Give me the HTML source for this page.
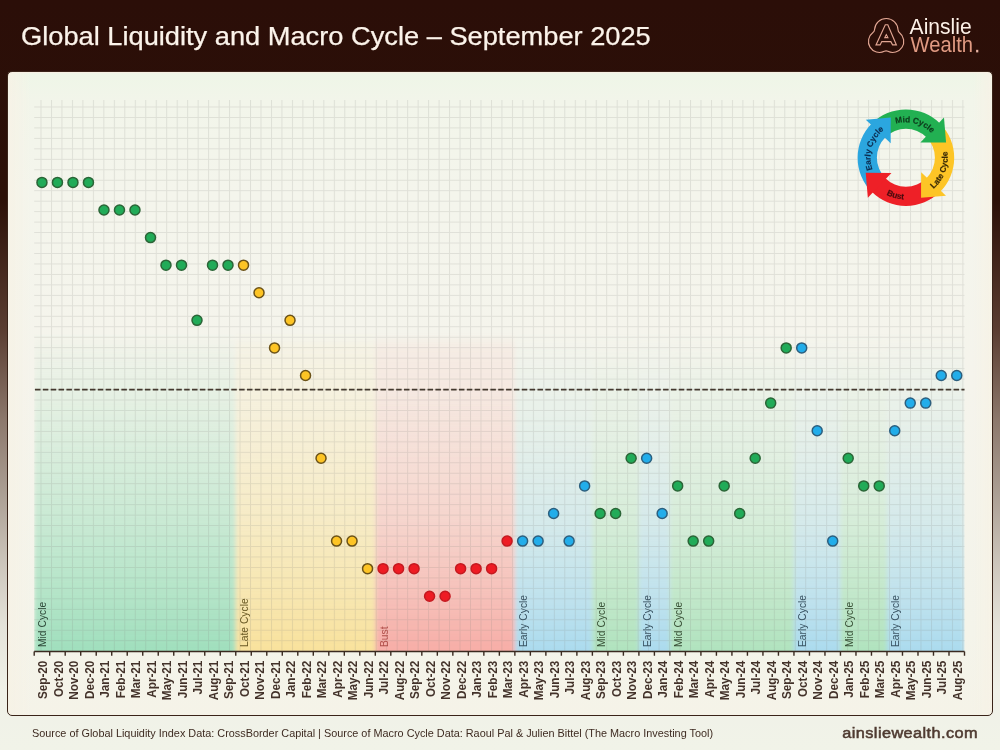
<!DOCTYPE html>
<html><head><meta charset="utf-8"><title>Global Liquidity and Macro Cycle</title>
<style>
html,body{margin:0;padding:0;}
body{width:1000px;height:750px;overflow:hidden;position:relative;font-family:"Liberation Sans",sans-serif;
background:linear-gradient(to bottom,#2b0e08 0px,#2c1007 200px,#5a3d31 330px,#8c786c 420px,#aea297 500px,#cdc6bc 565px,#e4e2d9 625px,#f0f1e8 690px,#f1f3e8 750px);}
#title{position:absolute;left:21px;top:18.8px;font-size:25.5px;color:#fbf3ea;-webkit-text-stroke:0.25px #fbf3ea;white-space:nowrap;line-height:34px;transform:scaleX(1.068);transform-origin:0 0;}
#panel{position:absolute;left:6.5px;top:71px;width:984.5px;height:642.7px;box-shadow:inset 0 1px 0 #f8f0e4;border:1.5px solid #3a2419;border-radius:5px;box-sizing:content-box;
background:linear-gradient(to right,#f6f2e6 0px,rgba(246,242,230,0) 22px,rgba(246,242,230,0) 965px,#f6f2e6 100%),linear-gradient(to bottom,#eef6e7 0px,#f2f5ea 28px,#f4f5ec 120px,#f5f4ec 300px,#f4f4ea 560px,#f5f3e8 100%);}
#foot{position:absolute;left:32px;top:725.5px;font-size:10.86px;color:#3e2b21;white-space:nowrap;line-height:14px;}
#site{position:absolute;right:22px;top:723.8px;font-size:15.4px;color:#4f3b31;-webkit-text-stroke:0.55px #4f3b31;letter-spacing:0.38px;white-space:nowrap;line-height:18px;transform:scaleX(1.06);transform-origin:100% 0;}
#wrap{position:absolute;left:0;top:0;width:1000px;height:750px;overflow:hidden;background:linear-gradient(to bottom,#2b0e08 0px,#2c1007 200px,#5a3d31 330px,#8c786c 420px,#aea297 500px,#cdc6bc 565px,#e4e2d9 625px,#f0f1e8 690px,#f1f3e8 750px);transform:translateZ(0);will-change:transform;}
svg{position:absolute;left:0;top:0;}
.xl{font-size:12.3px;font-weight:bold;fill:#43322a;}
.bl{font-size:10.3px;}
</style></head><body>
<div id="wrap"><div id="title">Global Liquidity and Macro Cycle – September 2025</div>
<div id="panel"></div>

<svg width="1000" height="750" viewBox="0 0 1000 750">
<defs>
<linearGradient id="bgg" x1="0" y1="0" x2="0" y2="1"><stop offset="0" stop-color="rgb(139,218,178)" stop-opacity="0"/><stop offset="0.05" stop-color="rgb(139,218,178)" stop-opacity="0.05"/><stop offset="0.176" stop-color="rgb(139,218,178)" stop-opacity="0.13"/><stop offset="0.588" stop-color="rgb(139,218,178)" stop-opacity="0.41"/><stop offset="0.84" stop-color="rgb(139,218,178)" stop-opacity="0.63"/><stop offset="1" stop-color="rgb(139,218,178)" stop-opacity="0.8"/></linearGradient>
<linearGradient id="bgh" x1="0" y1="0" x2="0" y2="1"><stop offset="0" stop-color="rgb(176,228,204)" stop-opacity="0"/><stop offset="0.05" stop-color="rgb(176,228,204)" stop-opacity="0.03"/><stop offset="0.176" stop-color="rgb(176,228,204)" stop-opacity="0.14"/><stop offset="0.588" stop-color="rgb(160,223,185)" stop-opacity="0.36"/><stop offset="0.84" stop-color="rgb(152,221,175)" stop-opacity="0.56"/><stop offset="1" stop-color="rgb(152,221,175)" stop-opacity="0.74"/></linearGradient>
<linearGradient id="bgy" x1="0" y1="0" x2="0" y2="1"><stop offset="0" stop-color="rgb(250,220,132)" stop-opacity="0"/><stop offset="0.05" stop-color="rgb(250,220,132)" stop-opacity="0.07"/><stop offset="0.176" stop-color="rgb(250,220,132)" stop-opacity="0.12"/><stop offset="0.588" stop-color="rgb(250,220,132)" stop-opacity="0.36"/><stop offset="0.84" stop-color="rgb(250,220,132)" stop-opacity="0.58"/><stop offset="1" stop-color="rgb(250,220,132)" stop-opacity="0.76"/></linearGradient>
<linearGradient id="bgr" x1="0" y1="0" x2="0" y2="1"><stop offset="0" stop-color="rgb(248,150,145)" stop-opacity="0"/><stop offset="0.05" stop-color="rgb(248,150,145)" stop-opacity="0.09"/><stop offset="0.176" stop-color="rgb(248,150,145)" stop-opacity="0.12"/><stop offset="0.588" stop-color="rgb(248,150,145)" stop-opacity="0.33"/><stop offset="0.84" stop-color="rgb(248,150,145)" stop-opacity="0.56"/><stop offset="1" stop-color="rgb(248,150,145)" stop-opacity="0.75"/></linearGradient>
<linearGradient id="bgb" x1="0" y1="0" x2="0" y2="1"><stop offset="0" stop-color="rgb(178,226,222)" stop-opacity="0"/><stop offset="0.05" stop-color="rgb(178,226,222)" stop-opacity="0.04"/><stop offset="0.176" stop-color="rgb(178,226,222)" stop-opacity="0.14"/><stop offset="0.588" stop-color="rgb(153,214,234)" stop-opacity="0.34"/><stop offset="0.84" stop-color="rgb(140,208,240)" stop-opacity="0.52"/><stop offset="1" stop-color="rgb(140,208,240)" stop-opacity="0.7"/></linearGradient>
<pattern id="grid" x="40.5" y="106.5" width="10.476" height="10.465" patternUnits="userSpaceOnUse"><path d="M0.5 0V10.5M0 0.5H10.5" stroke="#80827a" stroke-opacity="0.18" stroke-width="1" fill="none"/></pattern>
<filter id="hb" x="-2%" y="-2%" width="104%" height="104%"><feGaussianBlur stdDeviation="2.2 0"/></filter>
<clipPath id="gc"><rect x="34.2" y="100" width="930.3" height="551.5"/></clipPath>
</defs>
<g filter="url(#hb)" clip-path="url(#gc)">
<rect x="34.2" y="333" width="201.56" height="318.5" fill="url(#bgg)"/>
<rect x="235.76" y="333" width="139.55" height="318.5" fill="url(#bgy)"/>
<rect x="375.31" y="333" width="139.55" height="318.5" fill="url(#bgr)"/>
<rect x="514.86" y="333" width="77.53" height="318.5" fill="url(#bgb)"/>
<rect x="592.38" y="333" width="46.51" height="318.5" fill="url(#bgh)"/>
<rect x="638.9" y="333" width="31.01" height="318.5" fill="url(#bgb)"/>
<rect x="669.91" y="333" width="124.04" height="318.5" fill="url(#bgh)"/>
<rect x="793.95" y="333" width="46.51" height="318.5" fill="url(#bgb)"/>
<rect x="840.46" y="333" width="46.52" height="318.5" fill="url(#bgh)"/>
<rect x="886.98" y="333" width="77.52" height="318.5" fill="url(#bgb)"/>
</g>
<rect x="34.2" y="100" width="930.3" height="551.5" fill="url(#grid)"/>
<line x1="35" y1="389.6" x2="964.5" y2="389.6" stroke="#43382e" stroke-width="1.6" stroke-dasharray="5.5 2.351"/>
<path d="M34.2 651.5H964.5" stroke="#3a2a20" stroke-width="1.4" fill="none"/>
<path d="M34.2 651.5v4.2M49.71 651.5v4.2M65.21 651.5v4.2M80.72 651.5v4.2M96.22 651.5v4.2M111.73 651.5v4.2M127.23 651.5v4.2M142.74 651.5v4.2M158.24 651.5v4.2M173.75 651.5v4.2M189.25 651.5v4.2M204.75 651.5v4.2M220.26 651.5v4.2M235.76 651.5v4.2M251.27 651.5v4.2M266.78 651.5v4.2M282.28 651.5v4.2M297.79 651.5v4.2M313.29 651.5v4.2M328.8 651.5v4.2M344.3 651.5v4.2M359.81 651.5v4.2M375.31 651.5v4.2M390.81 651.5v4.2M406.32 651.5v4.2M421.82 651.5v4.2M437.33 651.5v4.2M452.84 651.5v4.2M468.34 651.5v4.2M483.85 651.5v4.2M499.35 651.5v4.2M514.86 651.5v4.2M530.36 651.5v4.2M545.87 651.5v4.2M561.37 651.5v4.2M576.88 651.5v4.2M592.38 651.5v4.2M607.89 651.5v4.2M623.39 651.5v4.2M638.9 651.5v4.2M654.4 651.5v4.2M669.91 651.5v4.2M685.41 651.5v4.2M700.92 651.5v4.2M716.42 651.5v4.2M731.93 651.5v4.2M747.43 651.5v4.2M762.94 651.5v4.2M778.44 651.5v4.2M793.95 651.5v4.2M809.45 651.5v4.2M824.96 651.5v4.2M840.46 651.5v4.2M855.97 651.5v4.2M871.47 651.5v4.2M886.98 651.5v4.2M902.48 651.5v4.2M917.99 651.5v4.2M933.49 651.5v4.2M949 651.5v4.2M964.5 651.5v4.2" stroke="#3a2a20" stroke-width="1.4" fill="none"/>
<text class="bl" fill="#2f4a3a" transform="translate(46.4 647) rotate(-90)">Mid Cycle</text>
<text class="bl" fill="#6a5a25" transform="translate(247.96 647) rotate(-90)">Late Cycle</text>
<text class="bl" fill="#b04f4a" transform="translate(387.51 647) rotate(-90)">Bust</text>
<text class="bl" fill="#3a5463" transform="translate(527.06 647) rotate(-90)">Early Cycle</text>
<text class="bl" fill="#3a5238" transform="translate(604.58 647) rotate(-90)">Mid Cycle</text>
<text class="bl" fill="#3a5463" transform="translate(651.1 647) rotate(-90)">Early Cycle</text>
<text class="bl" fill="#3a5238" transform="translate(682.11 647) rotate(-90)">Mid Cycle</text>
<text class="bl" fill="#3a5463" transform="translate(806.15 647) rotate(-90)">Early Cycle</text>
<text class="bl" fill="#3a5238" transform="translate(852.66 647) rotate(-90)">Mid Cycle</text>
<text class="bl" fill="#3a5463" transform="translate(899.18 647) rotate(-90)">Early Cycle</text>
<text class="xl" text-anchor="end" transform="translate(47.05 660.7) rotate(-90) scale(0.95 1)">Sep-20</text>
<text class="xl" text-anchor="end" transform="translate(62.56 660.7) rotate(-90) scale(0.95 1)">Oct-20</text>
<text class="xl" text-anchor="end" transform="translate(78.06 660.7) rotate(-90) scale(0.95 1)">Nov-20</text>
<text class="xl" text-anchor="end" transform="translate(93.57 660.7) rotate(-90) scale(0.95 1)">Dec-20</text>
<text class="xl" text-anchor="end" transform="translate(109.07 660.7) rotate(-90) scale(0.95 1)">Jan-21</text>
<text class="xl" text-anchor="end" transform="translate(124.58 660.7) rotate(-90) scale(0.95 1)">Feb-21</text>
<text class="xl" text-anchor="end" transform="translate(140.08 660.7) rotate(-90) scale(0.95 1)">Mar-21</text>
<text class="xl" text-anchor="end" transform="translate(155.59 660.7) rotate(-90) scale(0.95 1)">Apr-21</text>
<text class="xl" text-anchor="end" transform="translate(171.09 660.7) rotate(-90) scale(0.95 1)">May-21</text>
<text class="xl" text-anchor="end" transform="translate(186.6 660.7) rotate(-90) scale(0.95 1)">Jun-21</text>
<text class="xl" text-anchor="end" transform="translate(202.1 660.7) rotate(-90) scale(0.95 1)">Jul-21</text>
<text class="xl" text-anchor="end" transform="translate(217.61 660.7) rotate(-90) scale(0.95 1)">Aug-21</text>
<text class="xl" text-anchor="end" transform="translate(233.11 660.7) rotate(-90) scale(0.95 1)">Sep-21</text>
<text class="xl" text-anchor="end" transform="translate(248.62 660.7) rotate(-90) scale(0.95 1)">Oct-21</text>
<text class="xl" text-anchor="end" transform="translate(264.12 660.7) rotate(-90) scale(0.95 1)">Nov-21</text>
<text class="xl" text-anchor="end" transform="translate(279.63 660.7) rotate(-90) scale(0.95 1)">Dec-21</text>
<text class="xl" text-anchor="end" transform="translate(295.13 660.7) rotate(-90) scale(0.95 1)">Jan-22</text>
<text class="xl" text-anchor="end" transform="translate(310.64 660.7) rotate(-90) scale(0.95 1)">Feb-22</text>
<text class="xl" text-anchor="end" transform="translate(326.14 660.7) rotate(-90) scale(0.95 1)">Mar-22</text>
<text class="xl" text-anchor="end" transform="translate(341.65 660.7) rotate(-90) scale(0.95 1)">Apr-22</text>
<text class="xl" text-anchor="end" transform="translate(357.15 660.7) rotate(-90) scale(0.95 1)">May-22</text>
<text class="xl" text-anchor="end" transform="translate(372.66 660.7) rotate(-90) scale(0.95 1)">Jun-22</text>
<text class="xl" text-anchor="end" transform="translate(388.16 660.7) rotate(-90) scale(0.95 1)">Jul-22</text>
<text class="xl" text-anchor="end" transform="translate(403.67 660.7) rotate(-90) scale(0.95 1)">Aug-22</text>
<text class="xl" text-anchor="end" transform="translate(419.17 660.7) rotate(-90) scale(0.95 1)">Sep-22</text>
<text class="xl" text-anchor="end" transform="translate(434.68 660.7) rotate(-90) scale(0.95 1)">Oct-22</text>
<text class="xl" text-anchor="end" transform="translate(450.18 660.7) rotate(-90) scale(0.95 1)">Nov-22</text>
<text class="xl" text-anchor="end" transform="translate(465.69 660.7) rotate(-90) scale(0.95 1)">Dec-22</text>
<text class="xl" text-anchor="end" transform="translate(481.19 660.7) rotate(-90) scale(0.95 1)">Jan-23</text>
<text class="xl" text-anchor="end" transform="translate(496.7 660.7) rotate(-90) scale(0.95 1)">Feb-23</text>
<text class="xl" text-anchor="end" transform="translate(512.2 660.7) rotate(-90) scale(0.95 1)">Mar-23</text>
<text class="xl" text-anchor="end" transform="translate(527.71 660.7) rotate(-90) scale(0.95 1)">Apr-23</text>
<text class="xl" text-anchor="end" transform="translate(543.21 660.7) rotate(-90) scale(0.95 1)">May-23</text>
<text class="xl" text-anchor="end" transform="translate(558.72 660.7) rotate(-90) scale(0.95 1)">Jun-23</text>
<text class="xl" text-anchor="end" transform="translate(574.22 660.7) rotate(-90) scale(0.95 1)">Jul-23</text>
<text class="xl" text-anchor="end" transform="translate(589.73 660.7) rotate(-90) scale(0.95 1)">Aug-23</text>
<text class="xl" text-anchor="end" transform="translate(605.23 660.7) rotate(-90) scale(0.95 1)">Sep-23</text>
<text class="xl" text-anchor="end" transform="translate(620.74 660.7) rotate(-90) scale(0.95 1)">Oct-23</text>
<text class="xl" text-anchor="end" transform="translate(636.24 660.7) rotate(-90) scale(0.95 1)">Nov-23</text>
<text class="xl" text-anchor="end" transform="translate(651.75 660.7) rotate(-90) scale(0.95 1)">Dec-23</text>
<text class="xl" text-anchor="end" transform="translate(667.25 660.7) rotate(-90) scale(0.95 1)">Jan-24</text>
<text class="xl" text-anchor="end" transform="translate(682.76 660.7) rotate(-90) scale(0.95 1)">Feb-24</text>
<text class="xl" text-anchor="end" transform="translate(698.26 660.7) rotate(-90) scale(0.95 1)">Mar-24</text>
<text class="xl" text-anchor="end" transform="translate(713.77 660.7) rotate(-90) scale(0.95 1)">Apr-24</text>
<text class="xl" text-anchor="end" transform="translate(729.27 660.7) rotate(-90) scale(0.95 1)">May-24</text>
<text class="xl" text-anchor="end" transform="translate(744.78 660.7) rotate(-90) scale(0.95 1)">Jun-24</text>
<text class="xl" text-anchor="end" transform="translate(760.28 660.7) rotate(-90) scale(0.95 1)">Jul-24</text>
<text class="xl" text-anchor="end" transform="translate(775.79 660.7) rotate(-90) scale(0.95 1)">Aug-24</text>
<text class="xl" text-anchor="end" transform="translate(791.29 660.7) rotate(-90) scale(0.95 1)">Sep-24</text>
<text class="xl" text-anchor="end" transform="translate(806.8 660.7) rotate(-90) scale(0.95 1)">Oct-24</text>
<text class="xl" text-anchor="end" transform="translate(822.3 660.7) rotate(-90) scale(0.95 1)">Nov-24</text>
<text class="xl" text-anchor="end" transform="translate(837.81 660.7) rotate(-90) scale(0.95 1)">Dec-24</text>
<text class="xl" text-anchor="end" transform="translate(853.31 660.7) rotate(-90) scale(0.95 1)">Jan-25</text>
<text class="xl" text-anchor="end" transform="translate(868.82 660.7) rotate(-90) scale(0.95 1)">Feb-25</text>
<text class="xl" text-anchor="end" transform="translate(884.32 660.7) rotate(-90) scale(0.95 1)">Mar-25</text>
<text class="xl" text-anchor="end" transform="translate(899.83 660.7) rotate(-90) scale(0.95 1)">Apr-25</text>
<text class="xl" text-anchor="end" transform="translate(915.33 660.7) rotate(-90) scale(0.95 1)">May-25</text>
<text class="xl" text-anchor="end" transform="translate(930.84 660.7) rotate(-90) scale(0.95 1)">Jun-25</text>
<text class="xl" text-anchor="end" transform="translate(946.34 660.7) rotate(-90) scale(0.95 1)">Jul-25</text>
<text class="xl" text-anchor="end" transform="translate(961.85 660.7) rotate(-90) scale(0.95 1)">Aug-25</text>
<circle cx="41.95" cy="182.4" r="5" fill="#21ab58" stroke="#2b6537" stroke-width="1.5"/>
<circle cx="57.46" cy="182.4" r="5" fill="#21ab58" stroke="#2b6537" stroke-width="1.5"/>
<circle cx="72.96" cy="182.4" r="5" fill="#21ab58" stroke="#2b6537" stroke-width="1.5"/>
<circle cx="88.47" cy="182.4" r="5" fill="#21ab58" stroke="#2b6537" stroke-width="1.5"/>
<circle cx="103.97" cy="209.99" r="5" fill="#21ab58" stroke="#2b6537" stroke-width="1.5"/>
<circle cx="119.48" cy="209.99" r="5" fill="#21ab58" stroke="#2b6537" stroke-width="1.5"/>
<circle cx="134.98" cy="209.99" r="5" fill="#21ab58" stroke="#2b6537" stroke-width="1.5"/>
<circle cx="150.49" cy="237.58" r="5" fill="#21ab58" stroke="#2b6537" stroke-width="1.5"/>
<circle cx="165.99" cy="265.17" r="5" fill="#21ab58" stroke="#2b6537" stroke-width="1.5"/>
<circle cx="181.5" cy="265.17" r="5" fill="#21ab58" stroke="#2b6537" stroke-width="1.5"/>
<circle cx="197" cy="320.35" r="5" fill="#21ab58" stroke="#2b6537" stroke-width="1.5"/>
<circle cx="212.51" cy="265.17" r="5" fill="#21ab58" stroke="#2b6537" stroke-width="1.5"/>
<circle cx="228.01" cy="265.17" r="5" fill="#21ab58" stroke="#2b6537" stroke-width="1.5"/>
<circle cx="243.52" cy="265.17" r="5" fill="#fdc425" stroke="#6b5218" stroke-width="1.5"/>
<circle cx="259.02" cy="292.76" r="5" fill="#fdc425" stroke="#6b5218" stroke-width="1.5"/>
<circle cx="274.53" cy="347.94" r="5" fill="#fdc425" stroke="#6b5218" stroke-width="1.5"/>
<circle cx="290.03" cy="320.35" r="5" fill="#fdc425" stroke="#6b5218" stroke-width="1.5"/>
<circle cx="305.54" cy="375.53" r="5" fill="#fdc425" stroke="#6b5218" stroke-width="1.5"/>
<circle cx="321.04" cy="458.3" r="5" fill="#fdc425" stroke="#6b5218" stroke-width="1.5"/>
<circle cx="336.55" cy="541.07" r="5" fill="#fdc425" stroke="#6b5218" stroke-width="1.5"/>
<circle cx="352.05" cy="541.07" r="5" fill="#fdc425" stroke="#6b5218" stroke-width="1.5"/>
<circle cx="367.56" cy="568.66" r="5" fill="#fdc425" stroke="#6b5218" stroke-width="1.5"/>
<circle cx="383.06" cy="568.66" r="5" fill="#ee1c24" stroke="#c41a20" stroke-width="1.5"/>
<circle cx="398.57" cy="568.66" r="5" fill="#ee1c24" stroke="#c41a20" stroke-width="1.5"/>
<circle cx="414.07" cy="568.66" r="5" fill="#ee1c24" stroke="#c41a20" stroke-width="1.5"/>
<circle cx="429.58" cy="596.25" r="5" fill="#ee1c24" stroke="#c41a20" stroke-width="1.5"/>
<circle cx="445.08" cy="596.25" r="5" fill="#ee1c24" stroke="#c41a20" stroke-width="1.5"/>
<circle cx="460.59" cy="568.66" r="5" fill="#ee1c24" stroke="#c41a20" stroke-width="1.5"/>
<circle cx="476.09" cy="568.66" r="5" fill="#ee1c24" stroke="#c41a20" stroke-width="1.5"/>
<circle cx="491.6" cy="568.66" r="5" fill="#ee1c24" stroke="#c41a20" stroke-width="1.5"/>
<circle cx="507.1" cy="541.07" r="5" fill="#ee1c24" stroke="#c41a20" stroke-width="1.5"/>
<circle cx="522.61" cy="541.07" r="5" fill="#22adea" stroke="#2c5f7e" stroke-width="1.5"/>
<circle cx="538.11" cy="541.07" r="5" fill="#22adea" stroke="#2c5f7e" stroke-width="1.5"/>
<circle cx="553.62" cy="513.48" r="5" fill="#22adea" stroke="#2c5f7e" stroke-width="1.5"/>
<circle cx="569.12" cy="541.07" r="5" fill="#22adea" stroke="#2c5f7e" stroke-width="1.5"/>
<circle cx="584.63" cy="485.89" r="5" fill="#22adea" stroke="#2c5f7e" stroke-width="1.5"/>
<circle cx="600.13" cy="513.48" r="5" fill="#21ab58" stroke="#2b6537" stroke-width="1.5"/>
<circle cx="615.64" cy="513.48" r="5" fill="#21ab58" stroke="#2b6537" stroke-width="1.5"/>
<circle cx="631.14" cy="458.3" r="5" fill="#21ab58" stroke="#2b6537" stroke-width="1.5"/>
<circle cx="646.65" cy="458.3" r="5" fill="#22adea" stroke="#2c5f7e" stroke-width="1.5"/>
<circle cx="662.15" cy="513.48" r="5" fill="#22adea" stroke="#2c5f7e" stroke-width="1.5"/>
<circle cx="677.66" cy="485.89" r="5" fill="#21ab58" stroke="#2b6537" stroke-width="1.5"/>
<circle cx="693.16" cy="541.07" r="5" fill="#21ab58" stroke="#2b6537" stroke-width="1.5"/>
<circle cx="708.67" cy="541.07" r="5" fill="#21ab58" stroke="#2b6537" stroke-width="1.5"/>
<circle cx="724.17" cy="485.89" r="5" fill="#21ab58" stroke="#2b6537" stroke-width="1.5"/>
<circle cx="739.68" cy="513.48" r="5" fill="#21ab58" stroke="#2b6537" stroke-width="1.5"/>
<circle cx="755.18" cy="458.3" r="5" fill="#21ab58" stroke="#2b6537" stroke-width="1.5"/>
<circle cx="770.69" cy="403.12" r="5" fill="#21ab58" stroke="#2b6537" stroke-width="1.5"/>
<circle cx="786.19" cy="347.94" r="5" fill="#21ab58" stroke="#2b6537" stroke-width="1.5"/>
<circle cx="801.7" cy="347.94" r="5" fill="#22adea" stroke="#2c5f7e" stroke-width="1.5"/>
<circle cx="817.2" cy="430.71" r="5" fill="#22adea" stroke="#2c5f7e" stroke-width="1.5"/>
<circle cx="832.71" cy="541.07" r="5" fill="#22adea" stroke="#2c5f7e" stroke-width="1.5"/>
<circle cx="848.21" cy="458.3" r="5" fill="#21ab58" stroke="#2b6537" stroke-width="1.5"/>
<circle cx="863.72" cy="485.89" r="5" fill="#21ab58" stroke="#2b6537" stroke-width="1.5"/>
<circle cx="879.22" cy="485.89" r="5" fill="#21ab58" stroke="#2b6537" stroke-width="1.5"/>
<circle cx="894.73" cy="430.71" r="5" fill="#22adea" stroke="#2c5f7e" stroke-width="1.5"/>
<circle cx="910.23" cy="403.12" r="5" fill="#22adea" stroke="#2c5f7e" stroke-width="1.5"/>
<circle cx="925.74" cy="403.12" r="5" fill="#22adea" stroke="#2c5f7e" stroke-width="1.5"/>
<circle cx="941.24" cy="375.53" r="5" fill="#22adea" stroke="#2c5f7e" stroke-width="1.5"/>
<circle cx="956.75" cy="375.53" r="5" fill="#22adea" stroke="#2c5f7e" stroke-width="1.5"/>
<path d="M871.75 191.85A48.3 48.3 0 0 1 871.75 123.55L885.39 137.19A29.0 29.0 0 0 0 885.39 178.21Z" fill="#2ba6df"/>
<path d="M871.75 123.55A48.3 48.3 0 0 1 940.05 123.55L926.41 137.19A29.0 29.0 0 0 0 885.39 137.19Z" fill="#22b052"/>
<path d="M940.05 123.55A48.3 48.3 0 0 1 940.05 191.85L926.41 178.21A29.0 29.0 0 0 0 926.41 137.19Z" fill="#fdc526"/>
<path d="M940.05 191.85A48.3 48.3 0 0 1 871.75 191.85L885.39 178.21A29.0 29.0 0 0 0 926.41 178.21Z" fill="#ee2027"/>
<path d="M890.67 143.24L865.79 119.63L890.74 117.53Z" fill="#2ba6df"/>
<path d="M920.36 142.47L943.97 117.59L946.07 142.54Z" fill="#22b052"/>
<path d="M921.13 172.16L946.01 195.77L921.06 197.87Z" fill="#fdc526"/>
<path d="M891.44 172.93L867.83 197.81L865.73 172.86Z" fill="#ee2027"/>
<path id="tp0" d="M876.9 137.4A35.4 35.4 0 0 1 941.17 154.61" fill="none"/>
<text font-size="8.3" font-weight="bold" fill="#0d3a1c" stroke="#0d3a1c" stroke-width="0.18" text-anchor="middle"><textPath href="#tp0" startOffset="50%">Mid Cycle</textPath></text>
<path id="tp1" d="M885.09 186.34A35.4 35.4 0 0 1 903.43 122.39" fill="none"/>
<text font-size="8.2" font-weight="bold" fill="#0c2c50" stroke="#0c2c50" stroke-width="0.18" text-anchor="middle"><textPath href="#tp1" startOffset="50%">Early Cycle</textPath></text>
<path id="tp2" d="M905.9 199.5A41.8 41.8 0 0 0 932.77 125.68" fill="none"/>
<text font-size="8.3" font-weight="bold" fill="#3a2a06" stroke="#3a2a06" stroke-width="0.18" text-anchor="middle"><textPath href="#tp2" startOffset="50%">Late Cycle</textPath></text>
<path id="tp3" d="M864.23 160.98A41.8 41.8 0 0 0 939.93 181.97" fill="none"/>
<text font-size="8.3" font-weight="bold" fill="#4a0b0e" stroke="#4a0b0e" stroke-width="0.18" text-anchor="middle"><textPath href="#tp3" startOffset="50%">Bust</textPath></text>
<path d="M874.57 29.54A11.75 11.75 0 0 1 898.04 29.77A4.0 4.0 0 0 0 899.55 32.73A11.05 11.05 0 0 1 887.85 51.33A4.0 4.0 0 0 0 884.35 51.33A11.05 11.05 0 0 1 872.95 32.5A4.0 4.0 0 0 0 874.57 29.54Z" fill="none" stroke="#e2a693" stroke-width="1.15"/>
<path d="M885.3 24.7L887.8 24.7L896.4 44.9L892.6 44.9L890.8 41.6L881.8 41.6L880.1 44.9L876 44.9Z" fill="none" stroke="#e2a693" stroke-width="1.15" stroke-linejoin="miter"/>
<path d="M886.35 34.6L884.8 37.6L887.9 37.6Z" fill="none" stroke="#e2a693" stroke-width="1.1"/>
<text transform="translate(909.6 33.85) scale(0.925 1)" font-size="22.8" fill="#fdf1e8">Ainslie</text>
<text transform="translate(910.6 52.25) scale(0.948 1)" font-size="21.3" fill="#e09a82">Wealth</text>
<rect x="976.1" y="49.8" width="2.2" height="2.6" fill="#e8b3a4"/>
</svg>
<div id="foot">Source of Global Liquidity Index Data: CrossBorder Capital | Source of Macro Cycle Data: Raoul Pal &amp; Julien Bittel (The Macro Investing Tool)</div>
<div id="site">ainsliewealth.com</div>
</div></body></html>
